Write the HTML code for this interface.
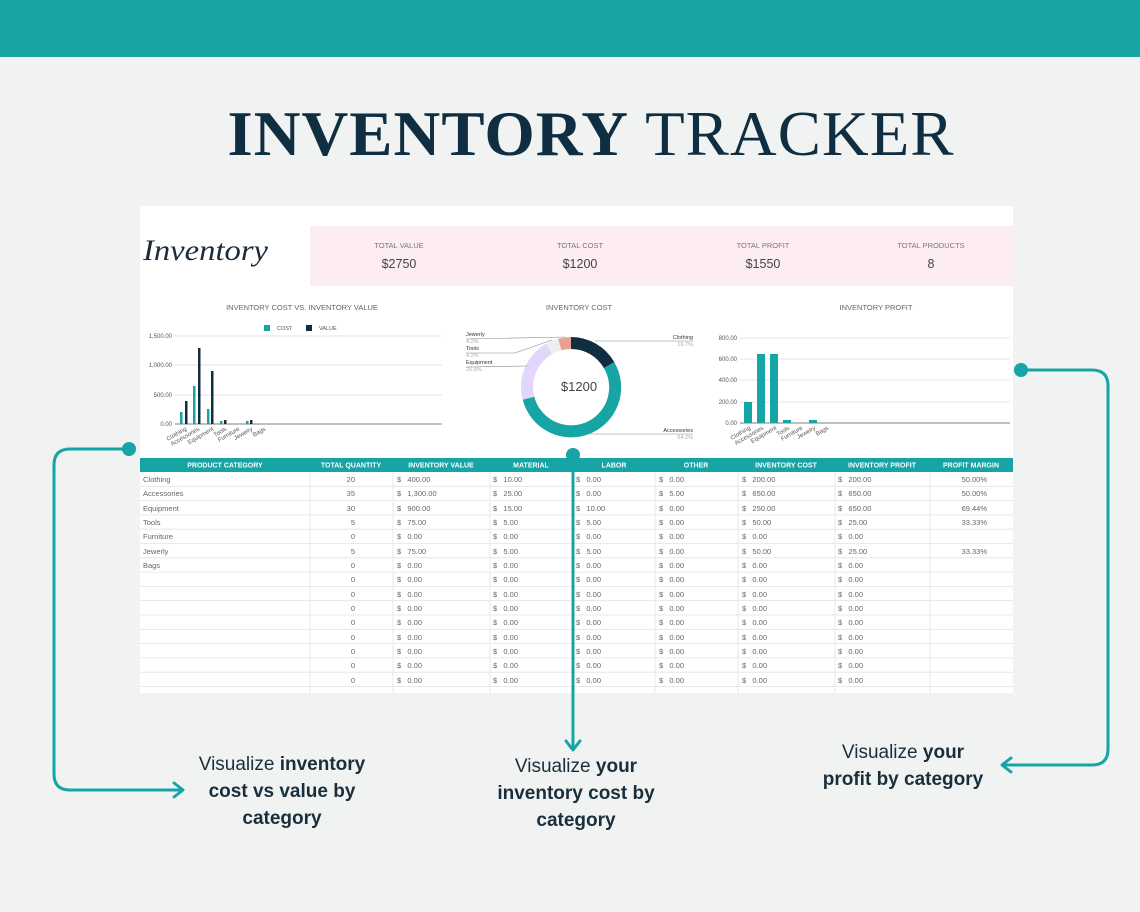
<!DOCTYPE html>
<html><head><meta charset="utf-8"><style>
html,body{margin:0;padding:0;background:#f1f3f2;}
svg{display:block;font-family:"Liberation Sans",sans-serif;}
.pre text{white-space:pre;}
</style></head><body>
<svg width="1140" height="912" viewBox="0 0 1140 912" xmlns="http://www.w3.org/2000/svg">
<rect x="0" y="0" width="1140" height="912" fill="#f1f3f2"/>
<rect x="0" y="0" width="1140" height="57" fill="#17a4a4"/>
<text x="591" y="155" text-anchor="middle" font-family="Liberation Serif,serif" font-size="64" fill="#0f2e42" letter-spacing="1" textLength="727" lengthAdjust="spacingAndGlyphs"><tspan font-weight="bold">INVENTORY</tspan> TRACKER</text>

<rect x="140" y="206" width="873" height="487" fill="#fff"/>
<text x="143" y="260" font-family="Liberation Serif,serif" font-style="italic" font-size="30" fill="#1b2b3a" textLength="125" lengthAdjust="spacingAndGlyphs">Inventory</text>
<rect x="310" y="226" width="703" height="60" fill="#fdedf1"/>
<g font-size="7.5" fill="#777" text-anchor="middle">
<text x="399" y="248">TOTAL VALUE</text><text x="580" y="248">TOTAL COST</text><text x="763" y="248">TOTAL PROFIT</text><text x="931" y="248">TOTAL PRODUCTS</text></g>
<g font-size="12.5" fill="#444" text-anchor="middle">
<text x="399" y="268">$2750</text><text x="580" y="268">$1200</text><text x="763" y="268">$1550</text><text x="931" y="268">8</text></g>

<g font-size="7.5" fill="#666" text-anchor="middle">
<text x="302" y="310">INVENTORY COST VS. INVENTORY VALUE</text>
<text x="579" y="310">INVENTORY COST</text>
<text x="876" y="310">INVENTORY PROFIT</text></g>

<!-- chart1 -->
<g stroke="#ddd" stroke-width="0.8"><line x1="175" y1="336" x2="442" y2="336"/><line x1="175" y1="365" x2="442" y2="365"/><line x1="175" y1="395" x2="442" y2="395"/></g>
<line x1="175" y1="424" x2="442" y2="424" stroke="#555" stroke-width="0.8"/>
<g font-size="6" fill="#555" text-anchor="end"><text x="172" y="338">1,500.00</text><text x="172" y="367">1,000.00</text><text x="172" y="397">500.00</text><text x="172" y="426">0.00</text></g>
<rect x="264" y="325" width="6" height="6" fill="#17a4a4"/><text x="277" y="330" font-size="5.5" fill="#555">COST</text>
<rect x="306" y="325" width="6" height="6" fill="#0f2e42"/><text x="319" y="330" font-size="5.5" fill="#555">VALUE</text>
<g fill="#17a4a4"><rect x="180" y="412" width="2.5" height="12"/><rect x="193" y="386" width="2.5" height="38"/><rect x="207" y="409" width="2.5" height="15"/><rect x="220" y="421" width="2.5" height="3"/><rect x="246" y="421" width="2.5" height="3"/></g>
<g fill="#0f2e42"><rect x="185" y="401" width="2.5" height="23"/><rect x="198" y="348" width="2.5" height="76"/><rect x="211" y="371" width="2.5" height="53"/><rect x="224" y="420" width="2.5" height="4"/><rect x="250" y="420" width="2.5" height="4"/></g>
<g font-size="6" fill="#555" text-anchor="end">
<text transform="translate(187,430) rotate(-30)">Clothing</text><text transform="translate(200,430) rotate(-30)">Accessories</text><text transform="translate(214,430) rotate(-30)">Equipment</text><text transform="translate(227,430) rotate(-30)">Tools</text><text transform="translate(240,430) rotate(-30)">Furniture</text><text transform="translate(253,430) rotate(-30)">Jewelry</text><text transform="translate(266,430) rotate(-30)">Bags</text></g>

<!-- donut -->
<g fill="none" stroke-width="12">
<path d="M571,343 A44,44 0 0 1 609.1,365.1" stroke="#0f2e42"/>
<path d="M609.1,365.1 A44,44 0 1 1 528.5,398.2" stroke="#17a4a4"/>
<path d="M528.5,398.2 A44,44 0 0 1 549.1,348.9" stroke="#e2d6fb"/>
<path d="M549.1,348.9 A44,44 0 0 1 559.8,344.5" stroke="#eeeeee"/>
<path d="M559.8,344.5 A44,44 0 0 1 571,343" stroke="#e8a092"/>
</g>
<text x="579" y="391" font-size="13" fill="#444" text-anchor="middle">$1200</text>
<g stroke="#888" stroke-width="0.6" fill="none">
<polyline points="466,339 565,337"/><polyline points="466,353 515,353 552,340"/><polyline points="466,367 527,366"/>
<polyline points="595,341 693,341"/><polyline points="590,434 693,434"/></g>
<g font-size="5.5" fill="#333"><text x="466" y="336">Jewerly</text><text x="466" y="350">Tools</text><text x="466" y="364">Equipment</text>
<text x="693" y="339" text-anchor="end">Clothing</text><text x="693" y="432" text-anchor="end">Accessories</text></g>
<g font-size="5.5" fill="#aaa"><text x="466" y="343">4.2%</text><text x="466" y="357">4.2%</text><text x="466" y="371">20.8%</text>
<text x="693" y="346" text-anchor="end">16.7%</text><text x="693" y="439" text-anchor="end">54.2%</text></g>

<!-- chart3 -->
<g stroke="#ddd" stroke-width="0.8"><line x1="740" y1="338" x2="1010" y2="338"/><line x1="740" y1="359" x2="1010" y2="359"/><line x1="740" y1="380" x2="1010" y2="380"/><line x1="740" y1="402" x2="1010" y2="402"/></g>
<line x1="740" y1="423" x2="1010" y2="423" stroke="#555" stroke-width="0.8"/>
<g font-size="6" fill="#555" text-anchor="end"><text x="737" y="340">800.00</text><text x="737" y="361">600.00</text><text x="737" y="382">400.00</text><text x="737" y="404">200.00</text><text x="737" y="425">0.00</text></g>
<g fill="#17a4a4"><rect x="744" y="402" width="8" height="21"/><rect x="757" y="354" width="8" height="69"/><rect x="770" y="354" width="8" height="69"/><rect x="783" y="420" width="8" height="3"/><rect x="809" y="420" width="8" height="3"/></g>
<g font-size="6" fill="#555" text-anchor="end">
<text transform="translate(751,429) rotate(-30)">Clothing</text><text transform="translate(764,429) rotate(-30)">Accessories</text><text transform="translate(777,429) rotate(-30)">Equipment</text><text transform="translate(790,429) rotate(-30)">Tools</text><text transform="translate(803,429) rotate(-30)">Furniture</text><text transform="translate(816,429) rotate(-30)">Jewelry</text><text transform="translate(829,429) rotate(-30)">Bags</text></g>

<!-- table -->
<rect x="140" y="458" width="873" height="14" fill="#17a4a4"/>
<g font-size="7" fill="#fff" text-anchor="middle" font-weight="bold">
<text x="225" y="467.5">PRODUCT CATEGORY</text><text x="351" y="467.5">TOTAL QUANTITY</text><text x="441" y="467.5">INVENTORY VALUE</text><text x="531" y="467.5">MATERIAL</text><text x="614" y="467.5">LABOR</text><text x="696" y="467.5">OTHER</text><text x="786" y="467.5">INVENTORY COST</text><text x="882" y="467.5">INVENTORY PROFIT</text><text x="971" y="467.5">PROFIT MARGIN</text></g>
<g stroke="#e3e3e3" stroke-width="0.8">
<line x1="140" y1="486.3" x2="1013" y2="486.3"/><line x1="140" y1="500.6" x2="1013" y2="500.6"/><line x1="140" y1="514.9" x2="1013" y2="514.9"/><line x1="140" y1="529.2" x2="1013" y2="529.2"/><line x1="140" y1="543.5" x2="1013" y2="543.5"/><line x1="140" y1="557.8" x2="1013" y2="557.8"/><line x1="140" y1="572.1" x2="1013" y2="572.1"/><line x1="140" y1="586.4" x2="1013" y2="586.4"/><line x1="140" y1="600.7" x2="1013" y2="600.7"/><line x1="140" y1="615" x2="1013" y2="615"/><line x1="140" y1="629.3" x2="1013" y2="629.3"/><line x1="140" y1="643.6" x2="1013" y2="643.6"/><line x1="140" y1="657.9" x2="1013" y2="657.9"/><line x1="140" y1="672.2" x2="1013" y2="672.2"/><line x1="140" y1="686.5" x2="1013" y2="686.5"/>
<line x1="310" y1="472" x2="310" y2="693"/><line x1="393" y1="472" x2="393" y2="693"/><line x1="490" y1="472" x2="490" y2="693"/><line x1="573" y1="472" x2="573" y2="693"/><line x1="655" y1="472" x2="655" y2="693"/><line x1="738" y1="472" x2="738" y2="693"/><line x1="835" y1="472" x2="835" y2="693"/><line x1="930" y1="472" x2="930" y2="693"/></g>
<g font-size="7.5" fill="#666" class="pre">
<text x="143" y="482">Clothing</text><text x="143" y="496">Accessories</text><text x="143" y="511">Equipment</text><text x="143" y="525">Tools</text><text x="143" y="539">Furniture</text><text x="143" y="554">Jewerly</text><text x="143" y="568">Bags</text>
<g text-anchor="end"><text x="355" y="482">20</text><text x="355" y="496">35</text><text x="355" y="511">30</text><text x="355" y="525">5</text><text x="355" y="539">0</text><text x="355" y="554">5</text><text x="355" y="568">0</text>
<text x="355" y="582">0</text><text x="355" y="597">0</text><text x="355" y="611">0</text><text x="355" y="625">0</text><text x="355" y="640">0</text><text x="355" y="654">0</text><text x="355" y="668">0</text><text x="355" y="683">0</text>
<text x="987" y="482">50.00%</text><text x="987" y="496">50.00%</text><text x="987" y="511">69.44%</text><text x="987" y="525">33.33%</text><text x="987" y="554">33.33%</text></g>
<text x="397" y="482">$   400.00</text><text x="397" y="496">$   1,300.00</text><text x="397" y="511">$   900.00</text><text x="397" y="525">$   75.00</text><text x="397" y="539">$   0.00</text><text x="397" y="554">$   75.00</text><text x="397" y="568">$   0.00</text>
<text x="493" y="482">$   10.00</text><text x="493" y="496">$   25.00</text><text x="493" y="511">$   15.00</text><text x="493" y="525">$   5.00</text><text x="493" y="539">$   0.00</text><text x="493" y="554">$   5.00</text><text x="493" y="568">$   0.00</text>
<text x="576" y="482">$   0.00</text><text x="576" y="496">$   0.00</text><text x="576" y="511">$   10.00</text><text x="576" y="525">$   5.00</text><text x="576" y="539">$   0.00</text><text x="576" y="554">$   5.00</text><text x="576" y="568">$   0.00</text>
<text x="659" y="482">$   0.00</text><text x="659" y="496">$   5.00</text><text x="659" y="511">$   0.00</text><text x="659" y="525">$   0.00</text><text x="659" y="539">$   0.00</text><text x="659" y="554">$   0.00</text><text x="659" y="568">$   0.00</text>
<text x="742" y="482">$   200.00</text><text x="742" y="496">$   650.00</text><text x="742" y="511">$   250.00</text><text x="742" y="525">$   50.00</text><text x="742" y="539">$   0.00</text><text x="742" y="554">$   50.00</text><text x="742" y="568">$   0.00</text>
<text x="838" y="482">$   200.00</text><text x="838" y="496">$   650.00</text><text x="838" y="511">$   650.00</text><text x="838" y="525">$   25.00</text><text x="838" y="539">$   0.00</text><text x="838" y="554">$   25.00</text><text x="838" y="568">$   0.00</text>
</g>
<g font-size="7.5" fill="#666" class="pre">
<text x="397" y="582">$   0.00</text><text x="493" y="582">$   0.00</text><text x="576" y="582">$   0.00</text><text x="659" y="582">$   0.00</text><text x="742" y="582">$   0.00</text><text x="838" y="582">$   0.00</text>
<text x="397" y="597">$   0.00</text><text x="493" y="597">$   0.00</text><text x="576" y="597">$   0.00</text><text x="659" y="597">$   0.00</text><text x="742" y="597">$   0.00</text><text x="838" y="597">$   0.00</text>
<text x="397" y="611">$   0.00</text><text x="493" y="611">$   0.00</text><text x="576" y="611">$   0.00</text><text x="659" y="611">$   0.00</text><text x="742" y="611">$   0.00</text><text x="838" y="611">$   0.00</text>
<text x="397" y="625">$   0.00</text><text x="493" y="625">$   0.00</text><text x="576" y="625">$   0.00</text><text x="659" y="625">$   0.00</text><text x="742" y="625">$   0.00</text><text x="838" y="625">$   0.00</text>
<text x="397" y="640">$   0.00</text><text x="493" y="640">$   0.00</text><text x="576" y="640">$   0.00</text><text x="659" y="640">$   0.00</text><text x="742" y="640">$   0.00</text><text x="838" y="640">$   0.00</text>
<text x="397" y="654">$   0.00</text><text x="493" y="654">$   0.00</text><text x="576" y="654">$   0.00</text><text x="659" y="654">$   0.00</text><text x="742" y="654">$   0.00</text><text x="838" y="654">$   0.00</text>
<text x="397" y="668">$   0.00</text><text x="493" y="668">$   0.00</text><text x="576" y="668">$   0.00</text><text x="659" y="668">$   0.00</text><text x="742" y="668">$   0.00</text><text x="838" y="668">$   0.00</text>
<text x="397" y="683">$   0.00</text><text x="493" y="683">$   0.00</text><text x="576" y="683">$   0.00</text><text x="659" y="683">$   0.00</text><text x="742" y="683">$   0.00</text><text x="838" y="683">$   0.00</text>
</g>
<rect x="140" y="693" width="873" height="10" fill="#f1f3f2"/>

<!-- arrows -->
<g stroke="#17a4a4" stroke-width="3" fill="none" stroke-linecap="round" stroke-linejoin="round">
<path d="M129,449 H70 Q54,449 54,465 V774 Q54,790 70,790 H182"/>
<path d="M174,783 L183,790 L174,797"/>
<path d="M573,455 V748"/>
<path d="M566,741 L573,750 L580,741"/>
<path d="M1021,370 H1092 Q1108,370 1108,386 V749 Q1108,765 1092,765 H1003"/>
<path d="M1011,758 L1002,765 L1011,772"/>
</g>
<g fill="#17a4a4"><circle cx="129" cy="449" r="7"/><circle cx="573" cy="455" r="7"/><circle cx="1021" cy="370" r="7"/></g>

<g font-size="19" fill="#1a2f3c" text-anchor="middle">
<text x="282" y="770">Visualize  <tspan font-weight="bold">inventory</tspan></text>
<text x="282" y="797" font-weight="bold">cost vs value by</text>
<text x="282" y="824" font-weight="bold">category</text>
<text x="576" y="772">Visualize <tspan font-weight="bold">your</tspan></text>
<text x="576" y="799" font-weight="bold">inventory cost by</text>
<text x="576" y="826" font-weight="bold">category</text>
<text x="903" y="758">Visualize <tspan font-weight="bold">your</tspan></text>
<text x="903" y="785" font-weight="bold">profit by category</text>
</g>
</svg>
</body></html>
